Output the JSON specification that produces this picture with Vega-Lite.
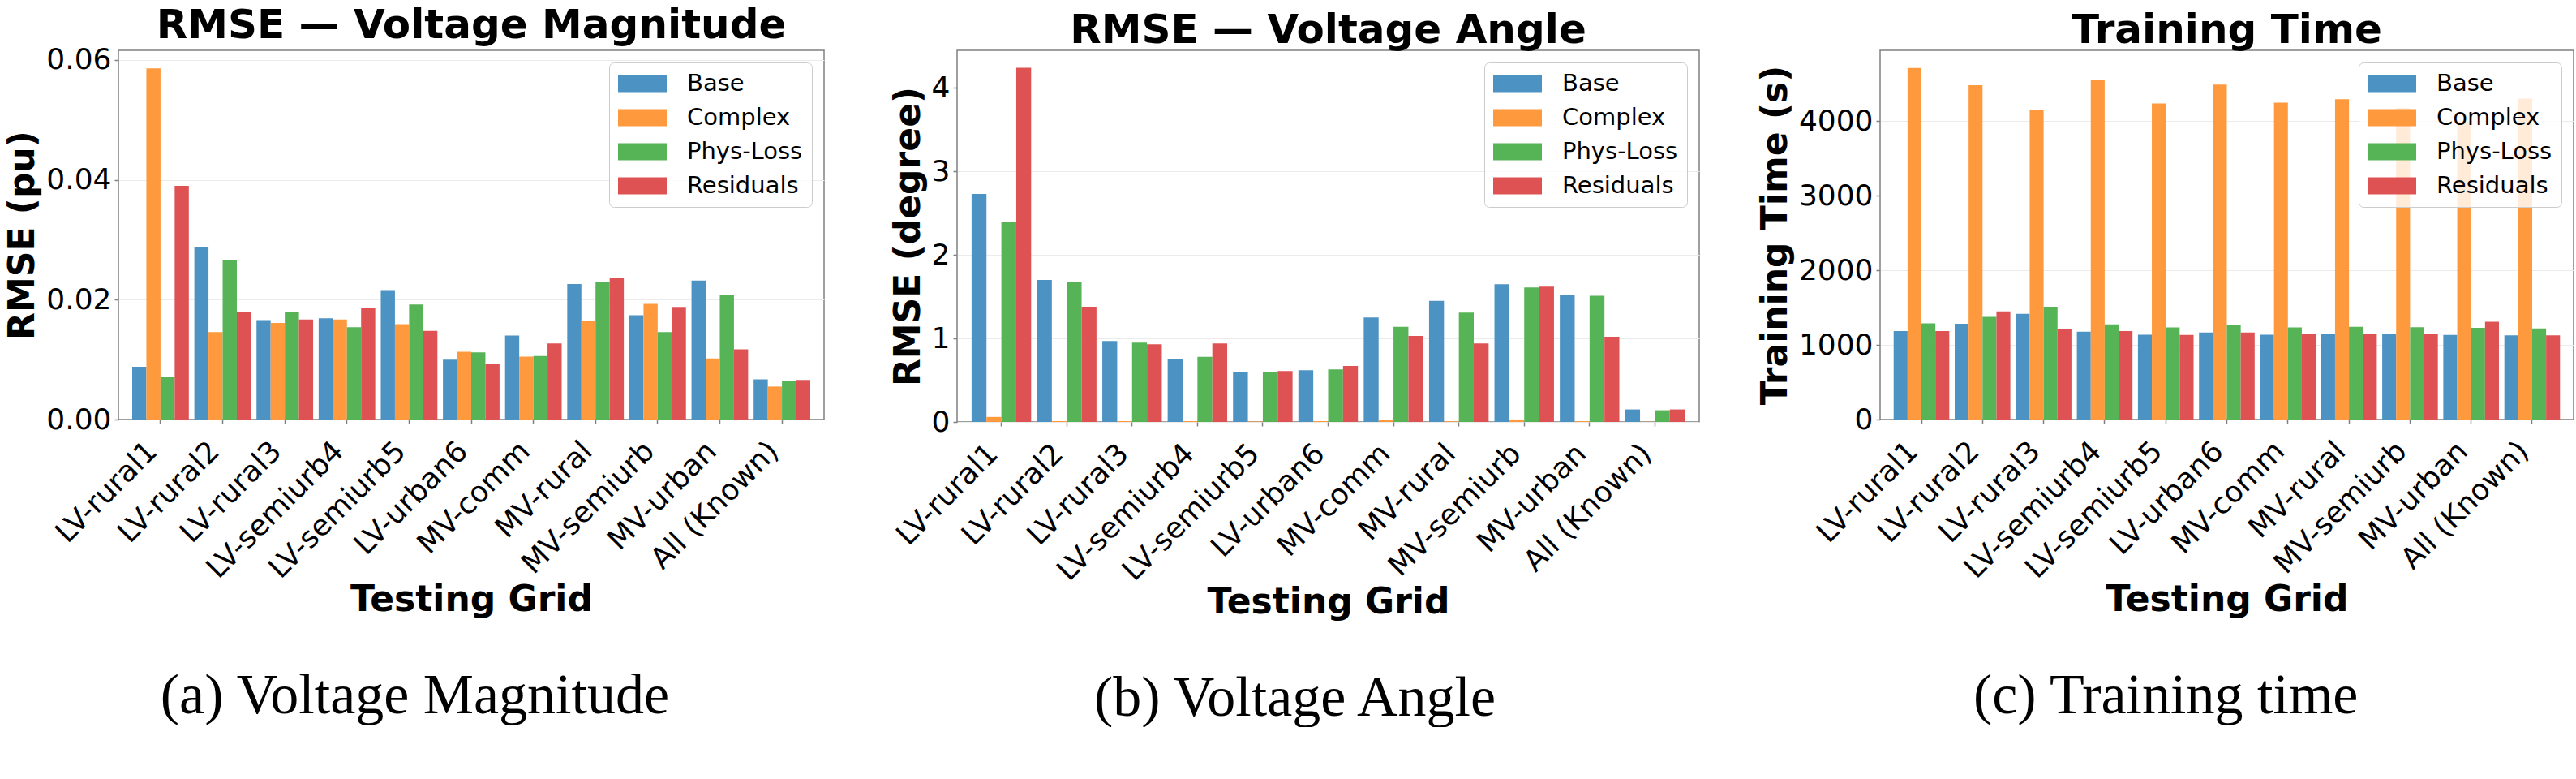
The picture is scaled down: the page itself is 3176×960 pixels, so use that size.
{
  "$schema": "https://vega.github.io/schema/vega-lite/v6.json",
  "background": "white",
  "padding": {"left": 6, "top": 6, "right": 0, "bottom": 0},
  "datasets": {
    "vm": [
      {"grid": "LV-rural1", "model": "Base", "value": 0.0088}, {"grid": "LV-rural1", "model": "Complex", "value": 0.0586}, {"grid": "LV-rural1", "model": "Phys-Loss", "value": 0.0071}, {"grid": "LV-rural1", "model": "Residuals", "value": 0.0390},
      {"grid": "LV-rural2", "model": "Base", "value": 0.0287}, {"grid": "LV-rural2", "model": "Complex", "value": 0.0146}, {"grid": "LV-rural2", "model": "Phys-Loss", "value": 0.0266}, {"grid": "LV-rural2", "model": "Residuals", "value": 0.0180},
      {"grid": "LV-rural3", "model": "Base", "value": 0.0166}, {"grid": "LV-rural3", "model": "Complex", "value": 0.0161}, {"grid": "LV-rural3", "model": "Phys-Loss", "value": 0.0180}, {"grid": "LV-rural3", "model": "Residuals", "value": 0.0167},
      {"grid": "LV-semiurb4", "model": "Base", "value": 0.0169}, {"grid": "LV-semiurb4", "model": "Complex", "value": 0.0167}, {"grid": "LV-semiurb4", "model": "Phys-Loss", "value": 0.0154}, {"grid": "LV-semiurb4", "model": "Residuals", "value": 0.0186},
      {"grid": "LV-semiurb5", "model": "Base", "value": 0.0216}, {"grid": "LV-semiurb5", "model": "Complex", "value": 0.0159}, {"grid": "LV-semiurb5", "model": "Phys-Loss", "value": 0.0192}, {"grid": "LV-semiurb5", "model": "Residuals", "value": 0.0148},
      {"grid": "LV-urban6", "model": "Base", "value": 0.0100}, {"grid": "LV-urban6", "model": "Complex", "value": 0.0113}, {"grid": "LV-urban6", "model": "Phys-Loss", "value": 0.0112}, {"grid": "LV-urban6", "model": "Residuals", "value": 0.0093},
      {"grid": "MV-comm", "model": "Base", "value": 0.0140}, {"grid": "MV-comm", "model": "Complex", "value": 0.0105}, {"grid": "MV-comm", "model": "Phys-Loss", "value": 0.0106}, {"grid": "MV-comm", "model": "Residuals", "value": 0.0127},
      {"grid": "MV-rural", "model": "Base", "value": 0.0226}, {"grid": "MV-rural", "model": "Complex", "value": 0.0164}, {"grid": "MV-rural", "model": "Phys-Loss", "value": 0.0230}, {"grid": "MV-rural", "model": "Residuals", "value": 0.0236},
      {"grid": "MV-semiurb", "model": "Base", "value": 0.0174}, {"grid": "MV-semiurb", "model": "Complex", "value": 0.0193}, {"grid": "MV-semiurb", "model": "Phys-Loss", "value": 0.0146}, {"grid": "MV-semiurb", "model": "Residuals", "value": 0.0188},
      {"grid": "MV-urban", "model": "Base", "value": 0.0232}, {"grid": "MV-urban", "model": "Complex", "value": 0.0102}, {"grid": "MV-urban", "model": "Phys-Loss", "value": 0.0207}, {"grid": "MV-urban", "model": "Residuals", "value": 0.0117},
      {"grid": "All (Known)", "model": "Base", "value": 0.0067}, {"grid": "All (Known)", "model": "Complex", "value": 0.0055}, {"grid": "All (Known)", "model": "Phys-Loss", "value": 0.0064}, {"grid": "All (Known)", "model": "Residuals", "value": 0.0066}
    ],
    "va": [
      {"grid": "LV-rural1", "model": "Base", "value": 2.73}, {"grid": "LV-rural1", "model": "Complex", "value": 0.06}, {"grid": "LV-rural1", "model": "Phys-Loss", "value": 2.39}, {"grid": "LV-rural1", "model": "Residuals", "value": 4.24},
      {"grid": "LV-rural2", "model": "Base", "value": 1.70}, {"grid": "LV-rural2", "model": "Complex", "value": 0.01}, {"grid": "LV-rural2", "model": "Phys-Loss", "value": 1.68}, {"grid": "LV-rural2", "model": "Residuals", "value": 1.38},
      {"grid": "LV-rural3", "model": "Base", "value": 0.97}, {"grid": "LV-rural3", "model": "Complex", "value": 0.01}, {"grid": "LV-rural3", "model": "Phys-Loss", "value": 0.95}, {"grid": "LV-rural3", "model": "Residuals", "value": 0.93},
      {"grid": "LV-semiurb4", "model": "Base", "value": 0.75}, {"grid": "LV-semiurb4", "model": "Complex", "value": 0.01}, {"grid": "LV-semiurb4", "model": "Phys-Loss", "value": 0.78}, {"grid": "LV-semiurb4", "model": "Residuals", "value": 0.94},
      {"grid": "LV-semiurb5", "model": "Base", "value": 0.60}, {"grid": "LV-semiurb5", "model": "Complex", "value": 0.005}, {"grid": "LV-semiurb5", "model": "Phys-Loss", "value": 0.60}, {"grid": "LV-semiurb5", "model": "Residuals", "value": 0.61},
      {"grid": "LV-urban6", "model": "Base", "value": 0.62}, {"grid": "LV-urban6", "model": "Complex", "value": 0.01}, {"grid": "LV-urban6", "model": "Phys-Loss", "value": 0.63}, {"grid": "LV-urban6", "model": "Residuals", "value": 0.67},
      {"grid": "MV-comm", "model": "Base", "value": 1.25}, {"grid": "MV-comm", "model": "Complex", "value": 0.02}, {"grid": "MV-comm", "model": "Phys-Loss", "value": 1.14}, {"grid": "MV-comm", "model": "Residuals", "value": 1.03},
      {"grid": "MV-rural", "model": "Base", "value": 1.45}, {"grid": "MV-rural", "model": "Complex", "value": 0.008}, {"grid": "MV-rural", "model": "Phys-Loss", "value": 1.31}, {"grid": "MV-rural", "model": "Residuals", "value": 0.94},
      {"grid": "MV-semiurb", "model": "Base", "value": 1.65}, {"grid": "MV-semiurb", "model": "Complex", "value": 0.03}, {"grid": "MV-semiurb", "model": "Phys-Loss", "value": 1.61}, {"grid": "MV-semiurb", "model": "Residuals", "value": 1.62},
      {"grid": "MV-urban", "model": "Base", "value": 1.52}, {"grid": "MV-urban", "model": "Complex", "value": 0.008}, {"grid": "MV-urban", "model": "Phys-Loss", "value": 1.51}, {"grid": "MV-urban", "model": "Residuals", "value": 1.02},
      {"grid": "All (Known)", "model": "Base", "value": 0.15}, {"grid": "All (Known)", "model": "Complex", "value": 0.002}, {"grid": "All (Known)", "model": "Phys-Loss", "value": 0.14}, {"grid": "All (Known)", "model": "Residuals", "value": 0.15}
    ],
    "tt": [
      {"grid": "LV-rural1", "model": "Base", "value": 1187}, {"grid": "LV-rural1", "model": "Complex", "value": 4714}, {"grid": "LV-rural1", "model": "Phys-Loss", "value": 1288}, {"grid": "LV-rural1", "model": "Residuals", "value": 1187},
      {"grid": "LV-rural2", "model": "Base", "value": 1284}, {"grid": "LV-rural2", "model": "Complex", "value": 4481}, {"grid": "LV-rural2", "model": "Phys-Loss", "value": 1377}, {"grid": "LV-rural2", "model": "Residuals", "value": 1451},
      {"grid": "LV-rural3", "model": "Base", "value": 1416}, {"grid": "LV-rural3", "model": "Complex", "value": 4147}, {"grid": "LV-rural3", "model": "Phys-Loss", "value": 1513}, {"grid": "LV-rural3", "model": "Residuals", "value": 1214},
      {"grid": "LV-semiurb4", "model": "Base", "value": 1179}, {"grid": "LV-semiurb4", "model": "Complex", "value": 4555}, {"grid": "LV-semiurb4", "model": "Phys-Loss", "value": 1276}, {"grid": "LV-semiurb4", "model": "Residuals", "value": 1187},
      {"grid": "LV-semiurb5", "model": "Base", "value": 1137}, {"grid": "LV-semiurb5", "model": "Complex", "value": 4237}, {"grid": "LV-semiurb5", "model": "Phys-Loss", "value": 1234}, {"grid": "LV-semiurb5", "model": "Residuals", "value": 1133},
      {"grid": "LV-urban6", "model": "Base", "value": 1168}, {"grid": "LV-urban6", "model": "Complex", "value": 4489}, {"grid": "LV-urban6", "model": "Phys-Loss", "value": 1265}, {"grid": "LV-urban6", "model": "Residuals", "value": 1168},
      {"grid": "MV-comm", "model": "Base", "value": 1137}, {"grid": "MV-comm", "model": "Complex", "value": 4248}, {"grid": "MV-comm", "model": "Phys-Loss", "value": 1234}, {"grid": "MV-comm", "model": "Residuals", "value": 1141},
      {"grid": "MV-rural", "model": "Base", "value": 1145}, {"grid": "MV-rural", "model": "Complex", "value": 4295}, {"grid": "MV-rural", "model": "Phys-Loss", "value": 1242}, {"grid": "MV-rural", "model": "Residuals", "value": 1145},
      {"grid": "MV-semiurb", "model": "Base", "value": 1141}, {"grid": "MV-semiurb", "model": "Complex", "value": 4176}, {"grid": "MV-semiurb", "model": "Phys-Loss", "value": 1238}, {"grid": "MV-semiurb", "model": "Residuals", "value": 1141},
      {"grid": "MV-urban", "model": "Base", "value": 1133}, {"grid": "MV-urban", "model": "Complex", "value": 3991}, {"grid": "MV-urban", "model": "Phys-Loss", "value": 1230}, {"grid": "MV-urban", "model": "Residuals", "value": 1311},
      {"grid": "All (Known)", "model": "Base", "value": 1129}, {"grid": "All (Known)", "model": "Complex", "value": 4303}, {"grid": "All (Known)", "model": "Phys-Loss", "value": 1222}, {"grid": "All (Known)", "model": "Residuals", "value": 1129}
    ]
  },
  "spacing": 80,
  "resolve": {"scale": {"color": "independent", "xOffset": "independent", "x": "independent", "y": "independent"}, "legend": {"color": "independent"}},
  "hconcat": [
    {
      "title": {"text": "(a) Voltage Magnitude", "orient": "bottom", "anchor": "middle", "frame": "bounds", "font": "Liberation Serif", "fontSize": 70, "fontWeight": "normal", "color": "#000000", "offset": 62},
      "resolve": {"scale": {"color": "independent", "xOffset": "independent"}, "legend": {"color": "independent"}},
      "vconcat": [
        {
          "data": {"name": "vm"},
          "width": 870,
          "height": 455,
          "title": {"text": "RMSE — Voltage Magnitude", "anchor": "middle", "frame": "group", "offset": -1},
          "mark": {"type": "bar"},
          "encoding": {
            "x": {"field": "grid", "type": "nominal", "sort": ["LV-rural1", "LV-rural2", "LV-rural3", "LV-semiurb4", "LV-semiurb5", "LV-urban6", "MV-comm", "MV-rural", "MV-semiurb", "MV-urban", "All (Known)"], "scale": {"paddingInner": 0.089, "paddingOuter": 0.222}, "axis": {"title": "Testing Grid"}},
            "xOffset": {"field": "model", "type": "nominal", "sort": ["Base", "Complex", "Phys-Loss", "Residuals"], "scale": {"paddingInner": 0, "paddingOuter": 0}},
            "y": {"field": "value", "type": "quantitative", "scale": {"domain": [0, 0.0616], "nice": false, "zero": true}, "axis": {"title": "RMSE (pu)", "values": [0, 0.02, 0.04, 0.06], "format": ".2f"}},
            "color": {"field": "model", "type": "nominal", "scale": {"domain": ["Base", "Complex", "Phys-Loss", "Residuals"], "range": ["#4c92c3", "#ff993e", "#56b356", "#de5253"]}, "legend": {"title": null}}
          }
        }
      ]
    },
    {
      "spacing": 70,
      "resolve": {"scale": {"color": "independent", "xOffset": "independent", "x": "independent", "y": "independent"}, "legend": {"color": "independent"}},
      "hconcat": [
        {
          "title": {"text": "(b) Voltage Angle", "orient": "bottom", "anchor": "middle", "frame": "bounds", "font": "Liberation Serif", "fontSize": 70, "fontWeight": "normal", "color": "#000000", "offset": 62},
          "resolve": {"scale": {"color": "independent", "xOffset": "independent"}, "legend": {"color": "independent"}},
          "vconcat": [
            {
              "data": {"name": "va"},
              "width": 915,
              "height": 458,
              "title": {"text": "RMSE — Voltage Angle", "anchor": "middle", "frame": "group", "offset": -1},
              "mark": {"type": "bar"},
              "encoding": {
                "x": {"field": "grid", "type": "nominal", "sort": ["LV-rural1", "LV-rural2", "LV-rural3", "LV-semiurb4", "LV-semiurb5", "LV-urban6", "MV-comm", "MV-rural", "MV-semiurb", "MV-urban", "All (Known)"], "scale": {"paddingInner": 0.089, "paddingOuter": 0.222}, "axis": {"title": "Testing Grid"}},
                "xOffset": {"field": "model", "type": "nominal", "sort": ["Base", "Complex", "Phys-Loss", "Residuals"], "scale": {"paddingInner": 0, "paddingOuter": 0}},
                "y": {"field": "value", "type": "quantitative", "scale": {"domain": [0, 4.45], "nice": false, "zero": true}, "axis": {"title": "RMSE (degree)", "values": [0, 1, 2, 3, 4], "format": "d"}},
                "color": {"field": "model", "type": "nominal", "scale": {"domain": ["Base", "Complex", "Phys-Loss", "Residuals"], "range": ["#4c92c3", "#ff993e", "#56b356", "#de5253"]}, "legend": {"title": null}}
              }
            }
          ]
        },
        {
          "title": {"text": "(c) Training time", "orient": "bottom", "anchor": "middle", "frame": "bounds", "font": "Liberation Serif", "fontSize": 70, "fontWeight": "normal", "color": "#000000", "offset": 62},
          "resolve": {"scale": {"color": "independent", "xOffset": "independent"}, "legend": {"color": "independent"}},
          "vconcat": [
            {
              "data": {"name": "tt"},
              "width": 855,
              "height": 455,
              "title": {"text": "Training Time", "anchor": "middle", "frame": "group", "offset": -1},
              "mark": {"type": "bar"},
              "encoding": {
                "x": {"field": "grid", "type": "nominal", "sort": ["LV-rural1", "LV-rural2", "LV-rural3", "LV-semiurb4", "LV-semiurb5", "LV-urban6", "MV-comm", "MV-rural", "MV-semiurb", "MV-urban", "All (Known)"], "scale": {"paddingInner": 0.089, "paddingOuter": 0.222}, "axis": {"title": "Testing Grid"}},
                "xOffset": {"field": "model", "type": "nominal", "sort": ["Base", "Complex", "Phys-Loss", "Residuals"], "scale": {"paddingInner": 0, "paddingOuter": 0}},
                "y": {"field": "value", "type": "quantitative", "scale": {"domain": [0, 4950], "nice": false, "zero": true}, "axis": {"title": "Training Time (s)", "values": [0, 1000, 2000, 3000, 4000], "format": "d"}},
                "color": {"field": "model", "type": "nominal", "scale": {"domain": ["Base", "Complex", "Phys-Loss", "Residuals"], "range": ["#4c92c3", "#ff993e", "#56b356", "#de5253"]}, "legend": {"title": null}}
              }
            }
          ]
        }
      ]
    }
  ],
  "config": {
    "view": {"stroke": "#808080", "strokeWidth": 1.5},
    "axis": {"domain": false, "labelFont": "DejaVu Sans", "labelFontSize": 36, "labelColor": "#000000", "labelLimit": 0, "titleFont": "DejaVu Sans", "titleFontWeight": "bold", "titleFontSize": 44, "titleColor": "#000000", "tickColor": "#808080", "tickSize": 5, "tickWidth": 1.5, "gridColor": "#ebebeb", "gridWidth": 1, "labelPadding": 4},
    "axisX": {"grid": false, "labelAngle": -45, "labelAlign": "right", "labelBaseline": "top", "labelOffset": -22, "labelPadding": 16, "titlePadding": 0},
    "axisY": {"grid": true, "titlePadding": 6},
    "legend": {"orient": "top-right", "offset": 15, "fillColor": "rgba(255,255,255,0.8)", "strokeColor": "#cccccc", "cornerRadius": 6, "padding": 11, "symbolType": "M-1,-0.7H3V0.7H-1Z", "symbolSize": 900, "symbolStrokeWidth": 0, "symbolOpacity": 1, "labelFont": "DejaVu Sans", "labelFontSize": 29, "labelColor": "#000000", "labelOffset": 55, "rowPadding": 12, "labelLimit": 0},
    "title": {"font": "DejaVu Sans", "fontWeight": "bold", "fontSize": 50, "color": "#000000"}
  }
}
